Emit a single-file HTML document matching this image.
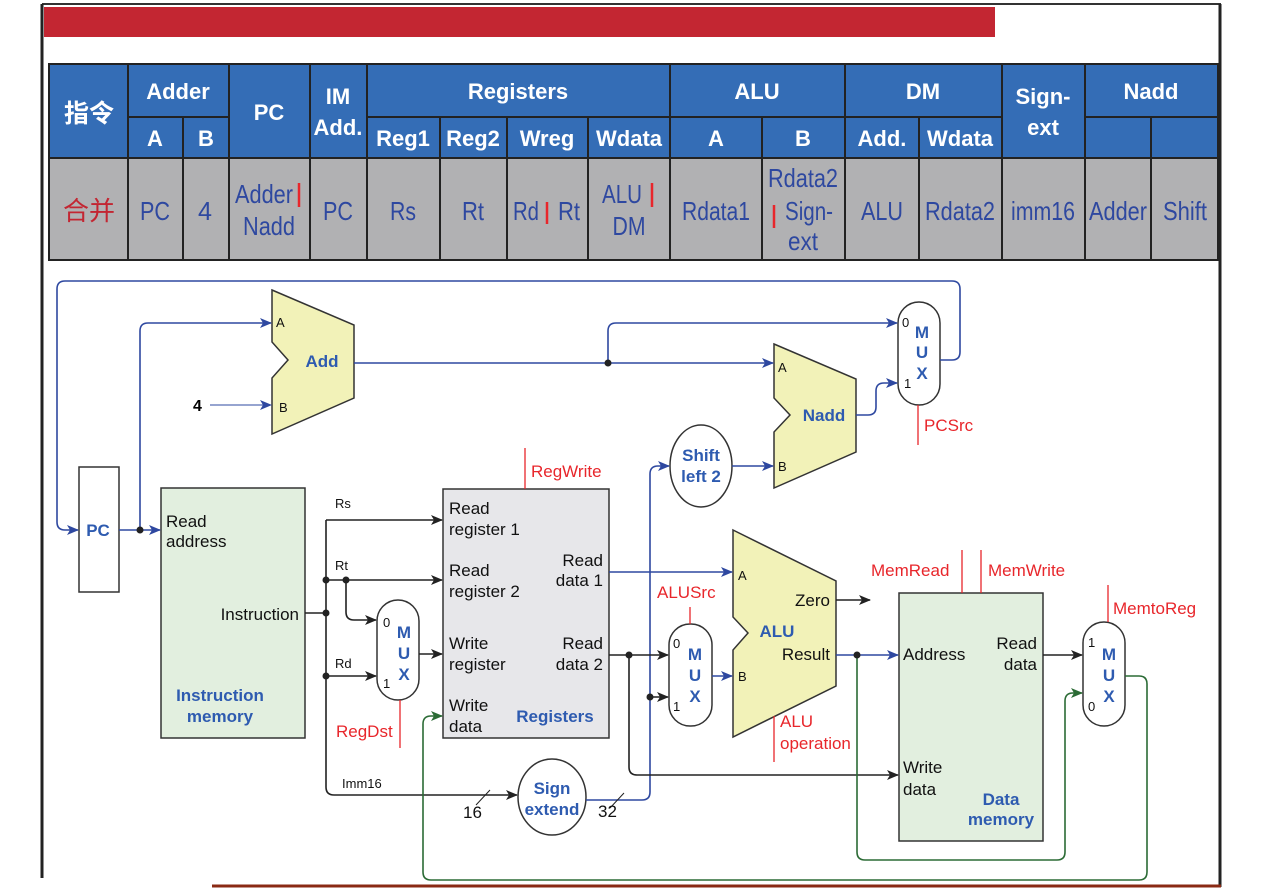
<!DOCTYPE html>
<html><head><meta charset="utf-8"><style>
body{margin:0;background:#fff;width:1261px;height:892px;overflow:hidden}
svg{display:block}
.h{font-family:"Liberation Sans","Noto Sans CJK SC",sans-serif;font-weight:bold;fill:#fff;font-size:22px;text-anchor:middle}
.b{font-family:"Liberation Sans","Noto Sans CJK SC",sans-serif;fill:#2e48a0;font-size:26px;text-anchor:middle}
.t{font-family:"Liberation Sans",sans-serif;font-size:17px;fill:#111}
.s{font-family:"Liberation Sans",sans-serif;font-size:13px;fill:#111}
.bl{font-family:"Liberation Sans",sans-serif;font-size:17px;font-weight:bold;fill:#2e5bb0}
.r{font-family:"Liberation Sans",sans-serif;font-size:17px;fill:#e8262b}
</style></head><body>
<svg width="1261" height="892" viewBox="0 0 1261 892" xmlns="http://www.w3.org/2000/svg">
<defs>
<marker id="ab" markerWidth="12" markerHeight="10" refX="11" refY="5" orient="auto" markerUnits="userSpaceOnUse"><path d="M0,0L12,5L0,10L3,5z" fill="#2e48a0"/></marker>
<marker id="ak" markerWidth="12" markerHeight="10" refX="11" refY="5" orient="auto" markerUnits="userSpaceOnUse"><path d="M0,0L12,5L0,10L3,5z" fill="#222"/></marker>
<marker id="ag" markerWidth="12" markerHeight="10" refX="11" refY="5" orient="auto" markerUnits="userSpaceOnUse"><path d="M0,0L12,5L0,10L3,5z" fill="#2b6b35"/></marker>
</defs>
<line x1="42" y1="4" x2="1221" y2="4" stroke="#333" stroke-width="2"/>
<line x1="42" y1="4" x2="42" y2="878" stroke="#222" stroke-width="3"/>
<line x1="1220" y1="4" x2="1220" y2="887" stroke="#222" stroke-width="3"/>
<line x1="212" y1="886" x2="1221" y2="886" stroke="#8a2a14" stroke-width="3"/>
<rect x="44" y="7" width="951" height="30" fill="#c32632"/>
<rect x="49" y="64" width="1169" height="94" fill="#346db6"/>
<rect x="49" y="158" width="1169" height="102" fill="#b1b1b3"/>
<g stroke="#222" stroke-width="2" fill="none">
<rect x="49" y="64" width="1169" height="196"/>
<line x1="49" y1="158" x2="1218" y2="158"/>
<line x1="128" y1="117" x2="229" y2="117"/><line x1="367" y1="117" x2="1002" y2="117"/><line x1="1085" y1="117" x2="1218" y2="117"/>
<line x1="128" y1="64" x2="128" y2="260"/><line x1="183" y1="117" x2="183" y2="260"/><line x1="229" y1="64" x2="229" y2="260"/>
<line x1="310" y1="64" x2="310" y2="260"/><line x1="367" y1="64" x2="367" y2="260"/><line x1="440" y1="117" x2="440" y2="260"/>
<line x1="507" y1="117" x2="507" y2="260"/><line x1="588" y1="117" x2="588" y2="260"/><line x1="670" y1="64" x2="670" y2="260"/>
<line x1="762" y1="117" x2="762" y2="260"/><line x1="845" y1="64" x2="845" y2="260"/><line x1="919" y1="117" x2="919" y2="260"/>
<line x1="1002" y1="64" x2="1002" y2="260"/><line x1="1085" y1="64" x2="1085" y2="260"/><line x1="1151" y1="117" x2="1151" y2="260"/>
</g>
<text class="h" x="89" y="122" style="font-size:25px">指令</text>
<text class="h" x="178" y="99">Adder</text><text class="h" x="155" y="146">A</text><text class="h" x="206" y="146">B</text>
<text class="h" x="269" y="120">PC</text>
<text class="h" x="338" y="104">IM</text><text class="h" x="338" y="135">Add.</text>
<text class="h" x="518" y="99">Registers</text>
<text class="h" x="403" y="146">Reg1</text><text class="h" x="473" y="146">Reg2</text><text class="h" x="547" y="146">Wreg</text><text class="h" x="629" y="146">Wdata</text>
<text class="h" x="757" y="99">ALU</text><text class="h" x="716" y="146">A</text><text class="h" x="803" y="146">B</text>
<text class="h" x="923" y="99">DM</text><text class="h" x="882" y="146">Add.</text><text class="h" x="960" y="146">Wdata</text>
<text class="h" x="1043" y="104">Sign-</text><text class="h" x="1043" y="135">ext</text>
<text class="h" x="1151" y="99">Nadd</text>
<g class="b">
<text x="89" y="220" style="fill:#c32632">合并</text>
<text x="155" y="220" textLength="30" lengthAdjust="spacingAndGlyphs">PC</text><text x="205" y="220" textLength="14" lengthAdjust="spacingAndGlyphs">4</text>
<text x="264" y="203" textLength="58" lengthAdjust="spacingAndGlyphs">Adder</text><text x="269" y="235" textLength="52" lengthAdjust="spacingAndGlyphs">Nadd</text>
<text x="338" y="220" textLength="30" lengthAdjust="spacingAndGlyphs">PC</text><text x="403" y="220" textLength="26" lengthAdjust="spacingAndGlyphs">Rs</text><text x="473" y="220" textLength="22" lengthAdjust="spacingAndGlyphs">Rt</text>
<text x="526" y="220" textLength="26" lengthAdjust="spacingAndGlyphs">Rd</text><text x="569" y="220" textLength="22" lengthAdjust="spacingAndGlyphs">Rt</text>
<text x="622" y="203" textLength="40" lengthAdjust="spacingAndGlyphs">ALU</text><text x="629" y="235" textLength="33" lengthAdjust="spacingAndGlyphs">DM</text>
<text x="716" y="220" textLength="68" lengthAdjust="spacingAndGlyphs">Rdata1</text>
<text x="803" y="187" textLength="70" lengthAdjust="spacingAndGlyphs">Rdata2</text><text x="809" y="220" textLength="48" lengthAdjust="spacingAndGlyphs">Sign-</text><text x="803" y="250" textLength="30" lengthAdjust="spacingAndGlyphs">ext</text>
<text x="882" y="220" textLength="42" lengthAdjust="spacingAndGlyphs">ALU</text><text x="960" y="220" textLength="70" lengthAdjust="spacingAndGlyphs">Rdata2</text>
<text x="1043" y="220" textLength="64" lengthAdjust="spacingAndGlyphs">imm16</text><text x="1118" y="220" textLength="58" lengthAdjust="spacingAndGlyphs">Adder</text><text x="1185" y="220" textLength="44" lengthAdjust="spacingAndGlyphs">Shift</text>
</g>
<g stroke="#e8262b" stroke-width="2.5"><line x1="299" y1="183" x2="299" y2="207"/><line x1="547" y1="202" x2="547" y2="224"/><line x1="652" y1="183" x2="652" y2="207"/><line x1="774" y1="205" x2="774" y2="228"/></g>

<g stroke="#333" stroke-width="1.5">
<polygon points="272,290 354,325 354,398 272,434 272,378 288,360 272,342" fill="#f2f2b8"/>
<polygon points="774,344 856,379 856,452 774,488 774,432 790,415 774,398" fill="#f2f2b8"/>
<polygon points="733,530 836,581 836,686 733,737 733,650 748,633 733,617" fill="#f2f2b8"/>
<rect x="79" y="467" width="40" height="125" fill="#fff"/>
<rect x="161" y="488" width="144" height="250" fill="#e2efdf"/>
<rect x="443" y="489" width="166" height="249" fill="#e7e7ea"/>
<rect x="899" y="593" width="144" height="248" fill="#e2efdf"/>
<rect x="898" y="302" width="42" height="103" rx="21" fill="#fff"/>
<rect x="377" y="600" width="42" height="100" rx="21" fill="#fff"/>
<rect x="669" y="624" width="43" height="102" rx="21" fill="#fff"/>
<rect x="1083" y="622" width="42" height="104" rx="21" fill="#fff"/>
<ellipse cx="701" cy="466" rx="31" ry="41" fill="#fff"/>
<ellipse cx="552" cy="797" rx="34" ry="38" fill="#fff"/>
</g>
<g stroke="#e8262b" stroke-width="1.3">
<line x1="525" y1="448" x2="525" y2="489"/><line x1="918" y1="405" x2="918" y2="445"/>
<line x1="400" y1="700" x2="400" y2="748"/><line x1="690" y1="607" x2="690" y2="624"/>
<line x1="774" y1="716" x2="774" y2="762"/><line x1="962" y1="550" x2="962" y2="593"/>
<line x1="981" y1="550" x2="981" y2="593"/><line x1="1108" y1="585" x2="1108" y2="622"/>
</g>
<g stroke="#2e48a0" stroke-width="1.6" fill="none">
<path d="M940,360 H952 Q960,360 960,352 V289 Q960,281 952,281 H65 Q57,281 57,289 V522 Q57,530 65,530 H78" marker-end="url(#ab)"/>
<path d="M140,530 V331 Q140,323 148,323 H271" marker-end="url(#ab)"/>
<path d="M210,405 H271" marker-end="url(#ab)" stroke-width="1"/>
<path d="M354,363 H773" marker-end="url(#ab)"/>
<path d="M608,363 V331 Q608,323 616,323 H897" marker-end="url(#ab)"/>
<path d="M856,415 H868 Q876,415 876,407 V391 Q876,383 884,383 H897" marker-end="url(#ab)"/>
<path d="M732,466 H773" marker-end="url(#ab)"/>
<path d="M586,800 H642 Q650,800 650,792 V474 Q650,466 658,466 H669" marker-end="url(#ab)"/>
<path d="M609,572 H732" marker-end="url(#ab)"/>
<path d="M712,676 H732" marker-end="url(#ab)"/>
<path d="M836,655 H898" marker-end="url(#ab)"/>
<path d="M119,530 H160" marker-end="url(#ab)"/>
</g>
<g stroke="#222" stroke-width="1.6" fill="none">
<path d="M305,613 H326"/>
<path d="M326,520 V787 Q326,795 334,795 H517" marker-end="url(#ak)"/>
<path d="M326,520 H442" marker-end="url(#ak)"/>
<path d="M326,580 H442" marker-end="url(#ak)"/>
<path d="M346,580 V612 Q346,620 354,620 H376" marker-end="url(#ak)"/>
<path d="M326,676 H376" marker-end="url(#ak)"/>
<path d="M419,654 H442" marker-end="url(#ak)"/>
<path d="M609,655 H668" marker-end="url(#ak)"/>
<path d="M629,655 V767 Q629,775 637,775 H898" marker-end="url(#ak)"/>
<path d="M650,697 H668" marker-end="url(#ak)"/>
<path d="M836,600 H870" marker-end="url(#ak)"/>
<path d="M1043,655 H1082" marker-end="url(#ak)"/>
<path d="M476,805 L490,790 M610,808 L624,793" stroke-width="1"/>
</g>
<g stroke="#2b6b35" stroke-width="1.6" fill="none">
<path d="M857,655 V852 Q857,860 865,860 H1057 Q1065,860 1065,852 V701 Q1065,693 1073,693 H1082" marker-end="url(#ag)"/>
<path d="M1125,676 H1139 Q1147,676 1147,684 V872 Q1147,880 1139,880 H431 Q423,880 423,872 V724 Q423,716 431,716 H442" marker-end="url(#ag)"/>
</g>
<g fill="#222"><circle cx="140" cy="530" r="3.5"/><circle cx="326" cy="613" r="3.5"/><circle cx="326" cy="580" r="3.5"/><circle cx="346" cy="580" r="3.5"/><circle cx="326" cy="676" r="3.5"/><circle cx="608" cy="363" r="3.5"/><circle cx="629" cy="655" r="3.5"/><circle cx="650" cy="697" r="3.5"/><circle cx="857" cy="655" r="3.5"/></g>
<text class="bl" x="98" y="536" text-anchor="middle">PC</text>
<text class="bl" x="322" y="367" text-anchor="middle">Add</text>
<text class="bl" x="824" y="421" text-anchor="middle">Nadd</text>
<text class="bl" x="777" y="637" text-anchor="middle">ALU</text>
<text class="bl" x="701" y="461" text-anchor="middle">Shift</text><text class="bl" x="701" y="482" text-anchor="middle">left 2</text>
<text class="bl" x="552" y="794" text-anchor="middle">Sign</text><text class="bl" x="552" y="815" text-anchor="middle">extend</text>
<text class="bl" x="220" y="701" text-anchor="middle">Instruction</text><text class="bl" x="220" y="722" text-anchor="middle">memory</text>
<text class="bl" x="555" y="722" text-anchor="middle">Registers</text>
<text class="bl" x="1001" y="805" text-anchor="middle">Data</text><text class="bl" x="1001" y="825" text-anchor="middle">memory</text>
<g class="bl" text-anchor="middle"><text x="922" y="338">M</text><text x="922" y="358">U</text><text x="922" y="379">X</text>
<text x="404" y="638">M</text><text x="404" y="659">U</text><text x="404" y="680">X</text>
<text x="695" y="660">M</text><text x="695" y="681">U</text><text x="695" y="702">X</text>
<text x="1109" y="660">M</text><text x="1109" y="681">U</text><text x="1109" y="702">X</text></g>
<g class="s"><text x="902" y="327">0</text><text x="904" y="388">1</text><text x="383" y="627">0</text><text x="383" y="688">1</text>
<text x="673" y="648">0</text><text x="673" y="711">1</text><text x="1088" y="647">1</text><text x="1088" y="711">0</text>
<text x="276" y="327">A</text><text x="279" y="412">B</text><text x="778" y="372">A</text><text x="778" y="471">B</text>
<text x="738" y="580">A</text><text x="738" y="681">B</text>
<text x="335" y="508">Rs</text><text x="335" y="570">Rt</text><text x="335" y="668">Rd</text><text x="342" y="788">Imm16</text></g>
<text x="193" y="411" style="font:bold 16px 'Liberation Sans',sans-serif">4</text>
<g class="t">
<text x="166" y="527">Read</text><text x="166" y="547">address</text><text x="299" y="620" text-anchor="end">Instruction</text>
<text x="449" y="514">Read</text><text x="449" y="535">register 1</text><text x="449" y="576">Read</text><text x="449" y="597">register 2</text>
<text x="449" y="649">Write</text><text x="449" y="670">register</text><text x="449" y="711">Write</text><text x="449" y="732">data</text>
<text x="603" y="566" text-anchor="end">Read</text><text x="603" y="586" text-anchor="end">data 1</text>
<text x="603" y="649" text-anchor="end">Read</text><text x="603" y="670" text-anchor="end">data 2</text>
<text x="830" y="606" text-anchor="end">Zero</text><text x="830" y="660" text-anchor="end">Result</text>
<text x="903" y="660">Address</text><text x="1037" y="649" text-anchor="end">Read</text><text x="1037" y="670" text-anchor="end">data</text>
<text x="903" y="773">Write</text><text x="903" y="795">data</text>
<text x="463" y="818">16</text><text x="598" y="817">32</text>
</g>
<g class="r"><text x="531" y="477">RegWrite</text><text x="924" y="431">PCSrc</text><text x="336" y="737">RegDst</text>
<text x="657" y="598">ALUSrc</text><text x="780" y="727">ALU</text><text x="780" y="749">operation</text>
<text x="871" y="576">MemRead</text><text x="988" y="576">MemWrite</text><text x="1113" y="614">MemtoReg</text></g>
</svg>
</body></html>
